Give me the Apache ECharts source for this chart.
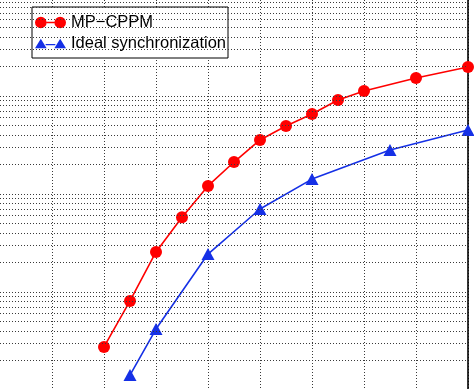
<!DOCTYPE html>
<html>
<head>
<meta charset="utf-8">
<script src="https://cdn.jsdelivr.net/npm/echarts@6/dist/echarts.min.js"></script>
<style>
  html, body { margin: 0; padding: 0; background: #fff; }
  #chart { width: 474px; height: 389px; }
</style>
</head>
<body>
<div id="chart"></div>
<script>
// ---- data ----
const mpX = [4, 5, 6, 7, 8, 9, 10, 11, 12, 13, 14, 16, 18];
const mpY = [2.75, 8.1, 25.6, 58, 121, 212, 356, 494, 655, 910, 1125, 1527, 1977];
const idealX = [5, 6, 8, 10, 12, 15, 18];
const idealY = [1.42, 4.19, 24.4, 70.3, 142, 281, 450];
const seriesNames = ['MP\u2212CPPM', 'Ideal synchronization'];
// log grid: mantissas and decades
const gridMantissas = [1, 2, 3, 4, 5, 6, 7, 8, 9];
const gridDecades = [1, 10, 100, 1000];
// visible y range of the (cropped) axis
const yMin = 1.0238;
const yMax = 9541;

const gridValues = [];
gridDecades.forEach(d => gridMantissas.forEach(m => gridValues.push(m * d)));

const red = '#ff0000';
const blue = '#1530e6';
const gridLine = { type: [1, 2], color: '#3a3a3a', width: 1 };

const circleIcon = 'path://M0,6 A6,6 0 1,0 12,6 A6,6 0 1,0 0,6 Z M20,6 A6,6 0 1,0 32,6 A6,6 0 1,0 20,6 Z M12,5.25 L20,5.25 L20,6.75 L12,6.75 Z';
const triIcon = 'path://M0,11 L6,1 L12,11 Z M20,11 L26,1 L32,11 Z M11,6.5 L21,6.5 L21,7.7 L11,7.7 Z';

const chart = echarts.init(document.getElementById('chart'), null, { renderer: 'canvas' });
chart.setOption({
  animation: false,
  backgroundColor: '#fff',
  grid: { left: 0, right: 6, top: 0, bottom: 0, containLabel: false },
  xAxis: {
    type: 'value', min: 0, max: 18, interval: 2,
    axisLine: { show: false }, axisTick: { show: false }, axisLabel: { show: false },
    splitLine: { show: true, showMinLine: false, lineStyle: gridLine }
  },
  yAxis: {
    type: 'log', logBase: 10, min: yMin, max: yMax, position: 'right',
    axisLine: { show: true, onZero: false, lineStyle: { color: '#000', width: 1.6 } },
    axisTick: { show: false }, axisLabel: { show: false },
    splitLine: { show: false }, minorSplitLine: { show: false }
  },
  legend: {
    orient: 'vertical', left: 32, top: 7,
    padding: [7, 2, 6, 3], itemGap: 4,
    itemWidth: 31, itemHeight: 12,
    backgroundColor: '#fff', borderColor: '#000', borderWidth: 1, borderRadius: 0,
    textStyle: { fontFamily: 'Liberation Sans, Arial, sans-serif', fontSize: 16.5, color: '#000' },
    data: [
      { name: seriesNames[0], icon: circleIcon },
      { name: seriesNames[1], icon: triIcon }
    ]
  },
  series: [
    {
      type: 'line', name: '__grid', data: [], z: 1, silent: true,
      markLine: {
        silent: true, symbol: 'none', animation: false,
        label: { show: false },
        lineStyle: gridLine,
        emphasis: { disabled: true },
        data: gridValues.map(v => ({ yAxis: v }))
      }
    },
    {
      type: 'line', name: seriesNames[0], z: 3,
      data: mpX.map((x, i) => [x, mpY[i]]),
      symbol: 'circle', symbolSize: 12,
      itemStyle: { color: red },
      lineStyle: { color: red, width: 1.6 }
    },
    {
      type: 'line', name: seriesNames[1], z: 3,
      data: idealX.map((x, i) => [x, idealY[i]]),
      symbol: 'triangle', symbolSize: [13, 12],
      itemStyle: { color: blue },
      lineStyle: { color: blue, width: 1.6 }
    }
  ]
});
</script>
</body>
</html>
